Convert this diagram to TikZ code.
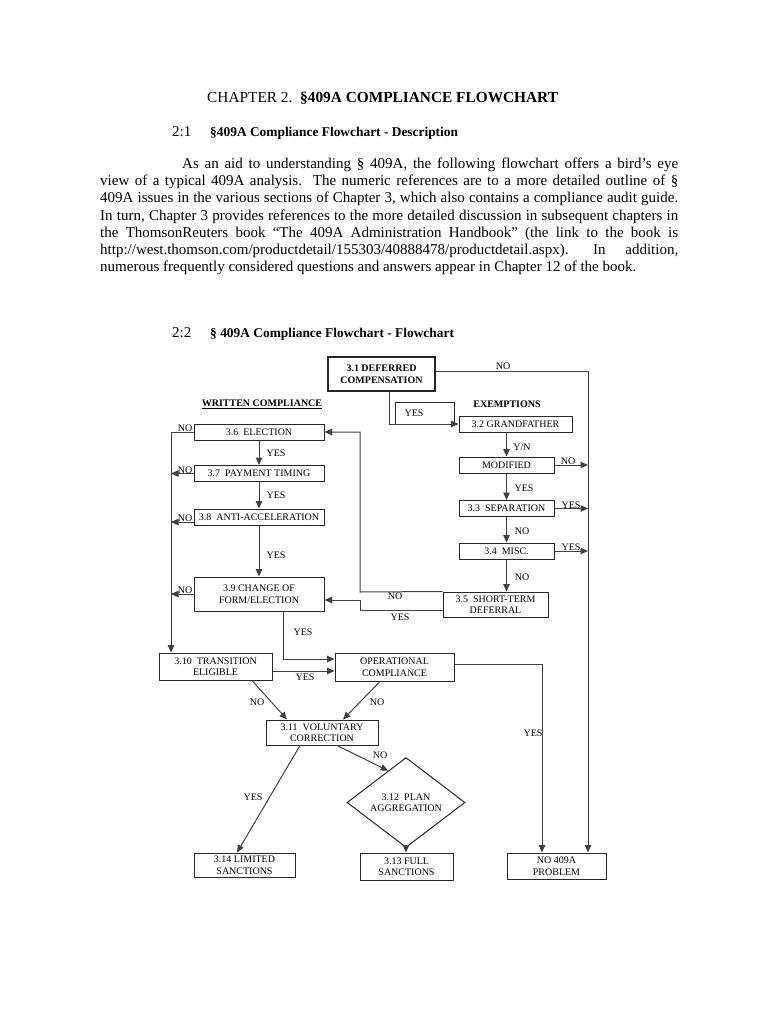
\documentclass[tikz,border=0pt]{standalone}
\usepackage{fontspec}
\setmainfont{Liberation Serif}
\usetikzlibrary{arrows.meta,shapes.geometric,calc}
\begin{document}
\begin{tikzpicture}[x=1pt,y=-1pt,
  fc/.style={font=\fontsize{10}{11.5}\selectfont},
  fcb/.style={font=\fontsize{10}{11.5}\selectfont\bfseries},
  box/.style={fc, draw=black!85, line width=1pt, inner sep=0pt, align=center},
  lbl/.style={fc, inner sep=0pt},
  body/.style={anchor=base west, inner sep=0pt, font=\fontsize{15}{17.2}\selectfont},
  head/.style={anchor=base west, inner sep=0pt, font=\fontsize{13.4}{16}\selectfont\bfseries},
  arr/.style={draw=black!75, line width=1pt, -{Triangle[length=7.5pt,width=6.5pt]}}]
\path[use as bounding box, fill=white] (0,0) rectangle (768,1024);

% ---------- text ----------
\node[body, font=\fontsize{15.35}{17.2}\selectfont] (title) at (207,103) {CHAPTER 2.\ \ \textbf{§409A COMPLIANCE FLOWCHART}};
\node[body] (s21) at (172,137) {2:1};
\node[head] (h21) at (210,137) {§409A Compliance Flowchart - Description};
\node[body] (para) at (100,168.5) {\parbox[t]{578pt}{\fontsize{15}{17.2}\selectfont
\hbox to 578pt{\hskip82pt As an aid to understanding § 409A, the following flowchart offers a bird’s eye}
\hbox to 578pt{view of a typical 409A analysis.\ \ The numeric references are to a more detailed outline of §}
\hbox to 578pt{409A issues in the various sections of Chapter 3, which also contains a compliance audit guide.}
\hbox to 578pt{In turn, Chapter 3 provides references to the more detailed discussion in subsequent chapters in}
\hbox to 578pt{the ThomsonReuters book “The 409A Administration Handbook” (the link to the book is}
\hbox to 578pt{http://west.thomson.com/productdetail/155303/40888478/productdetail.aspx).\ \ \ \ \ In\ \ \ \ addition,}
\hbox{numerous frequently considered questions and answers appear in Chapter 12 of the book.}}};
\node[body] (s22) at (172,337) {2:2};
\node[head] (h22) at (210,337) {§ 409A Compliance Flowchart - Flowchart};

% ---------- flowchart nodes ----------
\node[box, fcb, line width=1.8pt, minimum width=107, minimum height=34] (d31) at (381.5,374) {3.1 DEFERRED\\COMPENSATION};
\node[box, minimum width=59, minimum height=22, anchor=north west] (yb) at (395,402) {};
\node[lbl] (ybt) at (414,413) {YES};
\node[lbl, fcb] (wc) at (262,404) {\underline{WRITTEN COMPLIANCE}};
\node[lbl, fcb] (ex) at (507,404) {EXEMPTIONS};

\node[box, minimum width=113, minimum height=16] (g32) at (515.5,424) {3.2 GRANDFATHER};
\node[box, minimum width=95, minimum height=16] (mod) at (506.5,465) {MODIFIED};
\node[box, minimum width=95, minimum height=16] (s33) at (506.5,508.5) {3.3~ SEPARATION};
\node[box, minimum width=95, minimum height=16] (m34) at (506.5,551) {3.4~ MISC.};
\node[box, minimum width=105, minimum height=25] (s35) at (495.5,604.5) {3.5~ SHORT-TERM\\DEFERRAL};

\node[box, minimum width=130, minimum height=16] (e36) at (259,432) {3.6~ ELECTION};
\node[box, minimum width=130, minimum height=16] (p37) at (259,473.5) {3.7~ PAYMENT TIMING};
\node[box, minimum width=130, minimum height=16] (a38) at (259,517) {3.8~ ANTI-ACCELERATION};
\node[box, minimum width=130, minimum height=34] (c39) at (259,594) {3.9 CHANGE OF\\FORM/ELECTION};

\node[box, minimum width=113, minimum height=27] (t310) at (215.5,666.5) {3.10~ TRANSITION\\ELIGIBLE};
\node[box, minimum width=119, minimum height=28] (op) at (394.5,667) {OPERATIONAL\\COMPLIANCE};
\node[box, minimum width=112, minimum height=25] (v311) at (322,732.5) {3.11~ VOLUNTARY\\CORRECTION};
\node[box, diamond, minimum width=118, minimum height=69] (d312) at (406,802.5) {3.12~ PLAN\\AGGREGATION};
\node[box, minimum width=101, minimum height=24] (l314) at (244.5,865) {3.14 LIMITED\\SANCTIONS};
\node[box, minimum width=93, minimum height=27] (f313) at (406.5,866.5) {3.13 FULL\\SANCTIONS};
\node[box, minimum width=99, minimum height=26] (np) at (556.5,866) {NO 409A\\PROBLEM};

% ---------- right column connectors ----------
\coordinate (rc) at (588,371);
\draw[arr] ([yshift=3pt]d31.east) -- (rc) -- (rc |- np.north);
\node[lbl] (l1) at (503,366.5) {NO};
\draw[arr] ([xshift=7.5pt]d31.south) |- (g32.west);
\draw[arr] (g32.south -| mod.north) -- (mod.north);
\node[lbl] (l2) at (522,447) {Y/N};
\draw[arr] (mod.east) -- (mod.east -| rc);
\node[lbl] (l3) at (568,461.5) {NO};
\draw[arr] (mod.south) -- (s33.north);
\node[lbl] (l4) at (524,488) {YES};
\draw[arr] (s33.east) -- (s33.east -| rc);
\node[lbl] (l5) at (571,505) {YES};
\draw[arr] (s33.south) -- (m34.north);
\node[lbl] (l6) at (522,531) {NO};
\draw[arr] (m34.east) -- (m34.east -| rc);
\node[lbl] (l7) at (571,547.5) {YES};
\draw[arr] (m34.south) -- (m34.south |- s35.north);
\node[lbl] (l8) at (522,577) {NO};

% ---------- 3.5 back connectors ----------
\coordinate (m1) at (360,592);
\draw[arr] (s35.north west) -- (m1) |- (e36.east);
\coordinate (s35a) at ([yshift=-5.5pt]s35.west);
\coordinate (m2) at (360,610);
\coordinate (m3) at (360,600);
\draw[arr] (s35a) -- (m2) -- (m3) -- (m3 -| c39.east);
\node[lbl] (l9) at (395,596) {NO};
\node[lbl] (l10) at (400,617) {YES};

% ---------- left column connectors ----------
\draw[arr] (e36.south) -- (p37.north);
\node[lbl] (l11) at (276,453) {YES};
\draw[arr] (p37.south) -- (a38.north);
\node[lbl] (l12) at (276,495) {YES};
\draw[arr] (a38.south) -- (c39.north);
\node[lbl] (l13) at (276,555) {YES};
\coordinate (lc) at (171,432);
\draw[arr] (e36.west) -- (lc) -- (lc |- t310.north);
\node[lbl] (l14) at (185,428.5) {NO};
\draw[arr] (p37.west) -- (p37.west -| lc);
\node[lbl] (l15) at (185,470) {NO};
\coordinate (a38w) at ([yshift=-5pt]a38.west);
\draw[arr] (a38w) -- (a38w -| lc);
\node[lbl] (l16) at (185,518.5) {NO};
\draw[arr] (c39.west) -- (c39.west -| lc);
\node[lbl] (l17) at (185,590.5) {NO};

% ---------- lower connectors ----------
\coordinate (c39s) at ([xshift=24pt]c39.south);
\coordinate (opw) at ([yshift=8pt]op.west);
\draw[arr] (c39s) |- (opw);
\node[lbl] (l18) at (303,632) {YES};
\coordinate (t10y) at ([yshift=-4.5pt]t310.east);
\draw[arr] (t10y) -- (t10y -| op.west);
\node[lbl] (l19) at (305,677.5) {YES};
\draw[arr] ([xshift=36.5pt]t310.south) -- ([xshift=-35pt]v311.north);
\node[lbl] (l20) at (257,702) {NO};
\draw[arr] ([xshift=-14.5pt]op.south) -- ([xshift=21pt]v311.north);
\node[lbl] (l21) at (377,702) {NO};
\coordinate (oc) at (542,664);
\draw[arr] (op.east |- oc) -| (oc |- np.north);
\node[lbl] (l22) at (533,733.5) {YES};
\draw[arr] ([xshift=-22pt]v311.south) -- ([xshift=-7.5pt]l314.north);
\node[lbl] (l23) at (253,797) {YES};
\draw[arr] ([xshift=15pt]v311.south) -- ($(d312.west)!0.7!(d312.north)$);
\node[lbl] (l24) at (380,755) {NO};
\draw[arr] (d312.south) -- (d312.south |- f313.north);
\end{tikzpicture}
\end{document}
